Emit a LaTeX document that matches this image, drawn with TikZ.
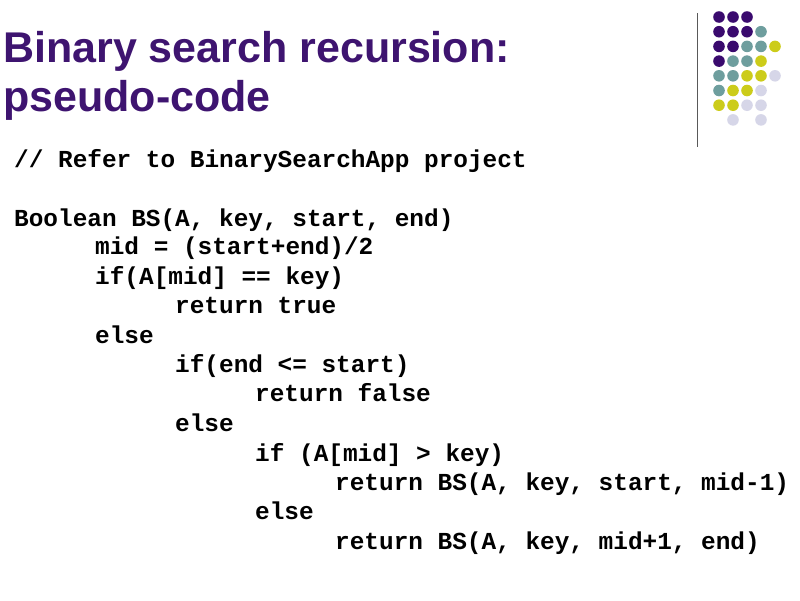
\documentclass[tikz,border=0pt]{standalone}
\usepackage{fontspec}
\setmainfont{Liberation Sans}
\newfontfamily\codefont{Liberation Mono}
\definecolor{ttl}{HTML}{3E1470}
\definecolor{cP}{HTML}{3A0A6E}
\definecolor{cT}{HTML}{6E9E9E}
\definecolor{cY}{HTML}{CCCC1A}
\definecolor{cL}{HTML}{D6D6E8}
\tikzset{code/.style={anchor=base west,inner sep=0,font=\codefont\bfseries\fontsize{24.4}{24}\selectfont},
title/.style={anchor=base west,inner sep=0,text=ttl,font=\bfseries\fontsize{43}{43}\selectfont}}
\begin{document}
\begin{tikzpicture}[x=1pt,y=-1pt]
\useasboundingbox (0,0) rectangle (800,600);
\node[title] (t1) at (3,62) {Binary search recursion:};
\node[title] (t2) at (3,111) {pseudo-code};
\draw[gray!70!black,line width=1pt] (697,13) -- (697,147);
\foreach \r/\row in {0/{P,P,P,N,N},1/{P,P,P,T,N},2/{P,P,T,T,Y},3/{P,T,T,Y,N},4/{T,T,Y,Y,L},5/{T,Y,Y,L,N},6/{Y,Y,L,L,N},7/{N,L,N,L,N}}{
  \foreach \c [count=\i from 0] in \row {
    \if\c N\else \fill[c\c] (719+14*\i,17+14.7*\r) circle (5.8);\fi
  }
}
\node[code] (l0) at (14,167) {// Refer to BinarySearchApp project};
\node[code] (l1) at (14,226) {Boolean BS(A, key, start, end)};
\node[code] (l2) at (95,254) {mid = (start+end)/2};
\node[code] (l3) at (95,284) {if(A[mid] == key)};
\node[code] (l4) at (175,313) {return true};
\node[code] (l5) at (95,343) {else};
\node[code] (l6) at (175,372) {if(end <= start)};
\node[code] (l7) at (255,401) {return false};
\node[code] (l8) at (175,431) {else};
\node[code] (l9) at (255,461) {if (A[mid] > key)};
\node[code] (l10) at (335,490) {return BS(A, key, start, mid-1)};
\node[code] (l11) at (255,519) {else};
\node[code] (l12) at (335,549) {return BS(A, key, mid+1, end)};
\end{tikzpicture}
\end{document}
